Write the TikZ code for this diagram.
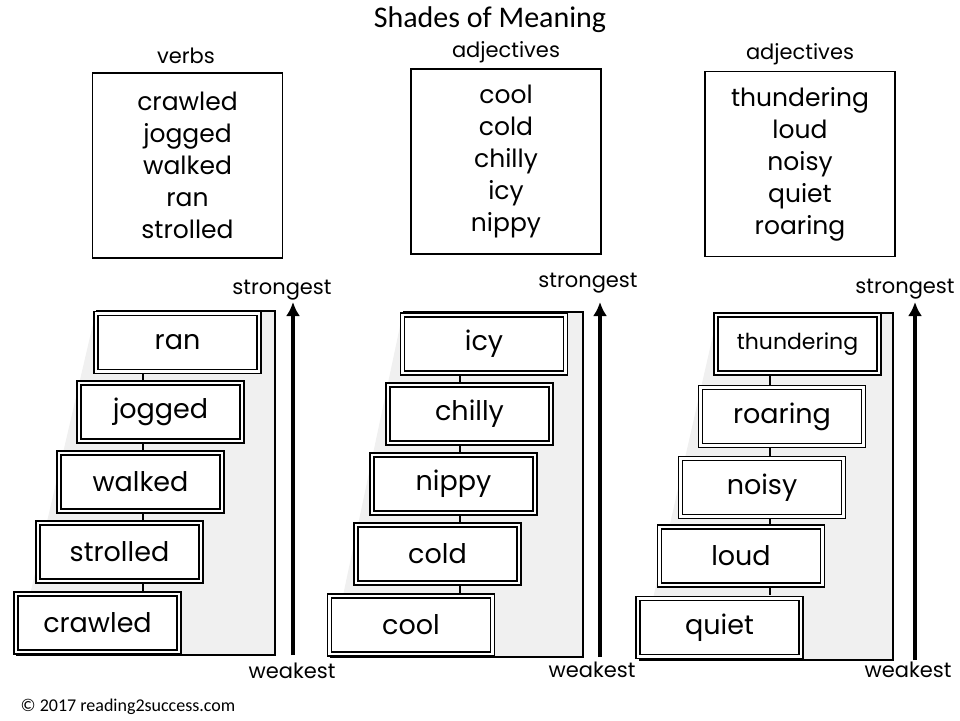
\documentclass[tikz,border=0pt]{standalone}
\usepackage{fontspec}
\usetikzlibrary{arrows.meta}
\setmainfont{Poppins}
\newfontfamily\calfont{Carlito}
\begin{document}
\begin{tikzpicture}[x=1pt,y=-1pt,
 wbox/.style={draw,double,double distance=2.2pt,line width=1.6pt,fill=white,minimum width=163pt,minimum height=58pt,inner sep=0pt,font=\fontsize{27}{27}\selectfont},
 listbox/.style={draw,line width=1.6pt,minimum width=190pt,minimum height=185pt,align=center,font=\fontsize{25}{32}\selectfont},
 panelfill/.style={fill=gray!12},
 panelline/.style={line width=1.6pt},
 lab/.style={font=\fontsize{21}{21}\selectfont},
 arr/.style={line width=4pt,-{Latex[length=14pt,width=14pt]}}]
\useasboundingbox (0,0) rectangle (960,720);
\node[font=\calfont\fontsize{30}{30}\selectfont] (title) at (490,20) {Shades of Meaning};
\node[font=\calfont\fontsize{18}{18}\selectfont] (copy) at (128,707) {\textcopyright{} 2017 reading2success.com};
% top boxes
\node[lab] (l1) at (186,56) {verbs};
\node[listbox] (b1) at (187.5,165.5) {crawled\\jogged\\walked\\ran\\strolled};
\node[lab] (l2) at (506,52) {adjectives};
\node[listbox] (b2) at (506,161.5) {cool\\cold\\chilly\\icy\\nippy};
\node[lab] (l3) at (800,54) {adjectives};
\node[listbox] (b3) at (800,164) {thundering\\loud\\noisy\\quiet\\roaring};
% panel 1
\coordinate (p1a) at (96,311); \coordinate (p1b) at (275,311);
\coordinate (p1c) at (275,655); \coordinate (p1d) at (16,655);
\fill[panelfill] (p1a) -- (p1b) -- (p1c) -- (p1d) -- cycle;
\draw[panelline] (p1a) -- (p1b) -- (p1c) -- (p1d);
\coordinate (c1a) at (143,374); \coordinate (c1b) at (143,591);
\draw[line width=1.5pt] (c1a) -- (c1b);
\node[wbox] (a1) at (177.5,342.5) {ran};
\node[wbox] (a2) at (160.5,412) {jogged};
\node[wbox] (a3) at (140.5,482) {walked};
\node[wbox] (a4) at (119.5,552) {strolled};
\node[wbox] (a5) at (97.5,623) {crawled};
\coordinate (w1) at (293,655); \coordinate (s1) at (293,302);
\draw[arr] (w1) -- (s1);
\node[lab] (st1) at (282,290) {strongest};
\node[lab] (we1) at (292,671) {weakest};
% panel 2
\coordinate (p2a) at (403,312); \coordinate (p2b) at (583,312);
\coordinate (p2c) at (583,657); \coordinate (p2d) at (330,657);
\fill[panelfill] (p2a) -- (p2b) -- (p2c) -- (p2d) -- cycle;
\draw[panelline] (p2a) -- (p2b) -- (p2c) -- (p2d);
\coordinate (c2a) at (460,376); \coordinate (c2b) at (460,593);
\draw[line width=1.5pt] (c2a) -- (c2b);
\node[wbox] (d1) at (484,344) {icy};
\node[wbox] (d2) at (469.5,414) {chilly};
\node[wbox] (d3) at (453.5,484) {nippy};
\node[wbox] (d4) at (437.5,554) {cold};
\node[wbox] (d5) at (411,625) {cool};
\coordinate (w2) at (600,657); \coordinate (s2) at (600,302);
\draw[arr] (w2) -- (s2);
\node[lab] (st2) at (588,283) {strongest};
\node[lab] (we2) at (592,670) {weakest};
% panel 3
\coordinate (p3a) at (718,313); \coordinate (p3b) at (893,313);
\coordinate (p3c) at (893,660); \coordinate (p3d) at (639,660);
\fill[panelfill] (p3a) -- (p3b) -- (p3c) -- (p3d) -- cycle;
\draw[panelline] (p3a) -- (p3b) -- (p3c) -- (p3d);
\coordinate (c3a) at (770,375); \coordinate (c3b) at (770,595);
\draw[line width=1.5pt] (c3a) -- (c3b);
\node[wbox,font=\fontsize{22}{22}\selectfont] (e1) at (797.5,344) {thundering};
\node[wbox] (e2) at (782,416.5) {roaring};
\node[wbox] (e3) at (762,487.5) {noisy};
\node[wbox] (e4) at (741,556) {loud};
\node[wbox] (e5) at (719.5,627.5) {quiet};
\coordinate (w3) at (915,660); \coordinate (s3) at (915,302);
\draw[arr] (w3) -- (s3);
\node[lab] (st3) at (905,289) {strongest};
\node[lab] (we3) at (908,670) {weakest};
\end{tikzpicture}
\end{document}
